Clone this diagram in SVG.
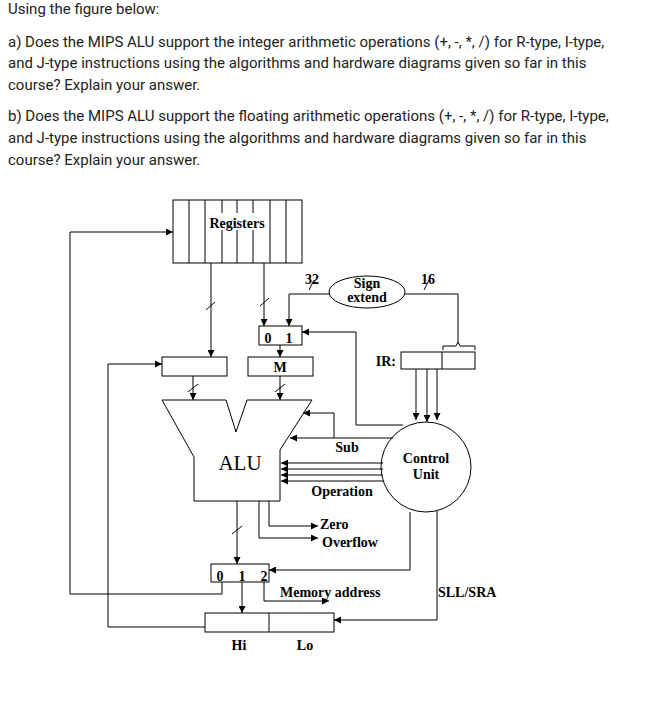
<svg xmlns="http://www.w3.org/2000/svg" width="650" height="709" viewBox="0 0 650 709">
<defs>
<marker id="ar" viewBox="0 0 10 10" refX="10" refY="5" markerWidth="7" markerHeight="7" markerUnits="userSpaceOnUse" orient="auto"><path d="M0,0L10,5L0,10z" fill="#000"/></marker>
</defs>
<style>
.q{font-family:Roboto,"Liberation Sans",sans-serif;font-size:15px;fill:#222}
.t{font-family:"Liberation Serif",serif;font-weight:bold;font-size:14px;fill:#000}
.s{fill:#fff;stroke:#000;stroke-width:1}
.l{fill:none;stroke:#000;stroke-width:1}
.a{fill:none;stroke:#000;stroke-width:1;marker-end:url(#ar)}
</style>
<rect width="650" height="709" fill="#fff"/>
<g id="question">
<text class="q" x="8" y="14">Using the figure below:</text>
<text class="q" x="8" y="47">a) Does the MIPS ALU support the integer arithmetic operations (+, -, *, /) for R-type, I-type,</text>
<text class="q" x="8" y="68">and J-type instructions using the algorithms and hardware diagrams given so far in this</text>
<text class="q" x="8" y="90">course? Explain your answer.</text>
<text class="q" x="8" y="121">b) Does the MIPS ALU support the floating arithmetic operations (+, -, *, /) for R-type, I-type,</text>
<text class="q" x="8" y="143">and J-type instructions using the algorithms and hardware diagrams given so far in this</text>
<text class="q" x="8" y="165">course? Explain your answer.</text>
</g>
<g id="registers">
<rect class="s" x="173" y="200" width="129" height="63"/>
<path class="l" d="M189,200V263M205,200V263M222,200V263M237,200V263M253,200V263M270,200V263M286,200V263"/>
<rect x="207" y="213" width="62" height="17" fill="#fff"/>
<text class="t" x="237" y="228" text-anchor="middle">Registers</text>
</g>
<g id="signext">
<ellipse class="s" cx="367" cy="292" rx="38" ry="16"/>
<text class="t" x="367" y="288" text-anchor="middle" font-size="12.5">Sign</text>
<text class="t" x="367" y="302" text-anchor="middle" font-size="12.5">extend</text>
</g>
<g id="mux1"><rect class="s" x="259" y="326" width="43" height="19"/>
<text class="t" x="268" y="343" text-anchor="middle">0</text><text class="t" x="289" y="343" text-anchor="middle">1</text></g>
<g id="regA"><rect class="s" x="162" y="357" width="65" height="19"/></g>
<g id="regM"><rect class="s" x="248" y="357" width="65" height="19"/><text class="t" x="280" y="372" text-anchor="middle">M</text></g>
<g id="ir"><rect class="s" x="401" y="352" width="74" height="17"/><path class="l" d="M442,352V369M443,350V346H456L458,342L460,346H475V350"/>
<text class="t" x="396" y="366" text-anchor="end">IR:</text></g>
<g id="alu"><path class="s" d="M162,400H226L236,432L247,400H312L280,450V501H194V457Z"/>
<text x="240" y="470" text-anchor="middle" font-family="Liberation Serif,serif" font-size="21">ALU</text></g>
<g id="control"><circle class="s" cx="426" cy="467" r="45"/>
<text class="t" x="426" y="463" text-anchor="middle" font-size="11.5">Control</text>
<text class="t" x="426" y="479" text-anchor="middle" font-size="11.5">Unit</text></g>
<g id="mux2"><rect class="s" x="211" y="564" width="58" height="18"/>
<text class="t" x="220" y="581" text-anchor="middle">0</text><text class="t" x="242" y="581" text-anchor="middle">1</text><text class="t" x="264" y="581" text-anchor="middle">2</text></g>
<g id="hilo"><rect class="s" x="205" y="613" width="129" height="19"/><path class="l" d="M269,613V632"/>
<text class="t" x="239" y="650" text-anchor="middle">Hi</text><text class="t" x="305" y="650" text-anchor="middle">Lo</text></g>
<g id="connectors">
<path class="a" d="M211,263V357"/>
<path class="a" d="M264,263V326"/>
<path class="a" d="M329,294H289V326"/>
<path class="l" d="M405,294H458V342"/>
<path class="a" d="M280,345V357"/>
<path class="a" d="M403,425H356V332H302"/>
<path class="a" d="M193,376V400"/>
<path class="a" d="M280,376V400"/>
<path class="a" d="M416,369V420"/><path class="a" d="M427,369V422"/><path class="a" d="M437,369V420"/>
<path class="a" d="M393,438H290"/>
<path class="a" d="M334,438V413H303"/>
<path class="a" d="M383,463H281"/><path class="a" d="M383,469H281"/><path class="a" d="M383,475H281"/><path class="a" d="M383,481H281"/>
<path class="a" d="M269,501V526H318"/>
<path class="a" d="M259,501V538H318"/>
<path class="a" d="M237,501V564"/>
<path class="a" d="M410,512V570H269"/>
<path class="a" d="M222,582V594H70V232H173"/>
<path class="a" d="M242,582V613"/>
<path class="a" d="M264,582V601H329"/>
<path class="a" d="M437,511V620H334"/>
<path class="a" d="M205,627H108V364H162"/>
<path class="l" d="M206,310L215,302M260,306L269,298M188,392L198,384M275,392L285,384M232,534L242,526M309,290L314,280M424,290L429,280"/>
</g>
<g id="labels">
<text class="t" x="312" y="284" text-anchor="middle">32</text>
<text class="t" x="428" y="284" text-anchor="middle">16</text>
<text class="t" x="347" y="452" text-anchor="middle">Sub</text>
<text class="t" x="342" y="496" text-anchor="middle">Operation</text>
<text class="t" x="320" y="529">Zero</text>
<text class="t" x="322" y="547">Overflow</text>
<text class="t" x="280" y="597">Memory address</text>
<text class="t" x="438" y="597">SLL/SRA</text>
</g>
</svg>
